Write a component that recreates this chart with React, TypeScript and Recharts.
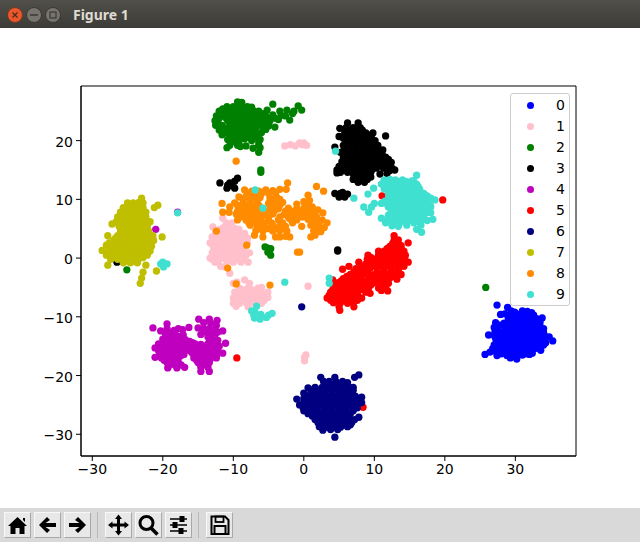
import React from 'react';
import { ScatterChart, Scatter, XAxis, YAxis, ReferenceArea } from 'recharts';

type Pt = [number, number];

const labels = ['0', '1', '2', '3', '4', '5', '6', '7', '8', '9'];
const colors = ['#0000ff', '#ffc0cb', '#008000', '#000000', '#bf00bf', '#ff0000', '#000080', '#bfbf00', '#ff8c00', '#40e0d0'];
const xTicks = [-30, -20, -10, 0, 10, 20, 30];
const yTicks = [-30, -20, -10, 0, 10, 20];

const digit0: Pt[] = [
  [27.4, -8], [28.9, -8.4], [29.4, -9], [29.9, -9.2], [31, -9], [31.7, -9.1], [32.3, -9.3],
  [27.9, -9.6], [29.2, -9.7], [30.5, -9.6], [31.4, -9.8], [32.6, -9.7],
  [29, -10.3], [30, -10.2], [31, -10.4], [32, -10.2], [33, -10.3], [33.8, -10.2],
  [27.2, -11], [28.4, -11.1], [29.5, -11], [30.5, -11.1], [31.5, -11], [32.5, -11.1], [33.5, -11],
  [27, -11.8], [28.6, -11.9], [29.6, -11.8], [30.6, -12], [31.6, -11.8], [32.6, -11.9], [33.6, -11.8], [34, -12],
  [27.1, -12.6], [28, -12.7], [29, -12.6], [30, -12.7], [31, -12.6], [32, -12.7], [33, -12.6], [34, -12.7],
  [26.2, -13.1], [27, -13.2], [28, -13.3], [29.2, -13.2], [30.2, -13.3], [31.2, -13.2], [32.2, -13.3], [33.2, -13.2], [34.2, -13.3], [34.8, -13.4],
  [27.6, -14], [28.6, -14.1], [29.6, -14], [30.6, -14.1], [31.6, -14], [32.6, -14.1], [33.6, -14], [35.3, -14.1],
  [27, -14.8], [28, -14.9], [29, -14.8], [30, -14.9], [31, -14.8], [32, -14.9], [33, -14.8], [34, -14.8],
  [26.8, -15.4], [27.8, -15.5], [28.8, -15.4], [29.8, -15.5], [30.8, -15.4], [31.8, -15.5], [32.8, -15.4], [33.6, -15.7],
  [26.4, -16], [27.4, -16.1], [28.6, -16], [29.6, -16.1], [30.6, -16], [31.6, -16.1], [32.4, -16.2],
  [25.7, -16.4], [27.4, -16.6], [28.8, -16.6], [30, -16.6], [31, -16.5], [32, -16.4], [29.3, -17], [30.2, -17.2],
];
const digit0Core: Pt[] = [
  [28.5, -9.5], [30, -9.5], [31, -9.5], [32, -9.5],
  [29.5, -10.6], [30.5, -10.6], [31.5, -10.6], [32.5, -10.6], [33.4, -10.6],
  [27.8, -11.4], [28.9, -11.4], [30, -11.4], [31, -11.4], [32, -11.4], [33, -11.4],
  [27.5, -12.2], [28.5, -12.2], [29.5, -12.2], [30.5, -12.2], [31.5, -12.2], [32.5, -12.2], [33.5, -12.2],
  [27.5, -13], [28.5, -13], [29.6, -13], [30.6, -13], [31.6, -13], [32.6, -13], [33.6, -13],
  [27.2, -13.7], [28.1, -13.7], [29.1, -13.7], [30.1, -13.7], [31.1, -13.7], [32.1, -13.7], [33.1, -13.7], [34.1, -13.7],
  [27.3, -14.4], [28.3, -14.4], [29.3, -14.4], [30.3, -14.4], [31.3, -14.4], [32.3, -14.4], [33.3, -14.4], [34.3, -14.4],
  [27.5, -15.1], [28.5, -15.1], [29.5, -15.1], [30.5, -15.1], [31.5, -15.1], [32.5, -15.1], [33.5, -15.1],
  [27, -15.8], [28, -15.8], [29.1, -15.8], [30.1, -15.8], [31.1, -15.8], [32.1, -15.8],
  [28, -16.3], [29.2, -16.3], [30.5, -16.3], [31.5, -16.3],
];

const digit1: Pt[] = [
  [-11.5, 6.8], [-11, 6], [-10.2, 6], [-12.9, 5.3], [-11.4, 5.2], [-10.5, 5.2], [-9.7, 5],
  [-12.5, 4.4], [-11.6, 4.4], [-10.8, 4.5], [-10, 4.4], [-9.2, 4.3], [-8.4, 4.2],
  [-13, 3.6], [-12.1, 3.5], [-11.3, 3.6], [-10.4, 3.5], [-9.5, 3.6], [-8.7, 3.5], [-8, 3.4],
  [-13.3, 2.6], [-12.4, 2.6], [-11.5, 2.7], [-10.6, 2.6], [-9.8, 2.7], [-8.9, 2.6], [-8, 2.6],
  [-12.8, 1.8], [-12, 1.8], [-11.1, 1.9], [-10.2, 1.8], [-9.3, 1.8], [-8.5, 1.7],
  [-13, 0.9], [-12.2, 0.9], [-11.3, 1], [-10.4, 0.9], [-9.6, 0.9], [-8.7, 0.8], [-7.7, 0.9],
  [-13.3, 0], [-12.4, 0], [-11.5, 0.1], [-10.6, 0], [-9.6, 0], [-8.6, -0.1],
  [-12.6, -0.7], [-10.9, -0.6], [-10, -0.7], [-8.9, -0.7], [-7.9, -0.7],
  [-11.8, -1.4], [-11.2, -1.5], [-10.5, -2.6],
  [-2.7, 19.1], [-1.9, 19.3], [-1.2, 19.1], [-0.6, 19.6], [0, 19.6], [0.4, 19.2], [-0.2, 19.3],
  [-10, -4.3], [-9.5, -4.1], [-8.4, -3.7], [-7.7, -4.3],
  [-9.1, -5.1], [-7.9, -5.1], [-6.5, -5.1], [-6, -5],
  [-9.8, -5.8], [-8.8, -5.8], [-7.8, -5.9], [-6.8, -5.8], [-6, -5.9], [-5.1, -5.8],
  [-10, -6.8], [-9.1, -6.8], [-8.1, -6.9], [-7.1, -6.8], [-6.1, -6.8], [-5.1, -6.7],
  [-10, -7.7], [-9.1, -7.7], [-8.1, -7.7], [-7.1, -7.6], [-6, -7.7], [-9.6, -8.2], [-7.9, -8.3],
  [0.6, -4.8], [0.3, -16.5], [0.1, -16.9], [0.1, -17.5],
];
const digit1Core: Pt[] = [
  [-11.9, 4.9], [-11, 4.9], [-10, 4.9], [-9.2, 4.9],
  [-12.2, 4], [-11.2, 4], [-10.4, 4], [-9.6, 4], [-8.8, 4],
  [-12.6, 3.1], [-11.8, 3.1], [-10.9, 3.1], [-10, 3.1], [-9.1, 3.1], [-8.3, 3.1],
  [-12.9, 2.2], [-12, 2.2], [-11.1, 2.2], [-10.2, 2.2], [-9.4, 2.2], [-8.5, 2.2],
  [-12.4, 1.4], [-11.5, 1.4], [-10.6, 1.4], [-9.7, 1.4], [-8.9, 1.4],
  [-12.6, 0.5], [-11.8, 0.5], [-10.9, 0.5], [-10, 0.5], [-9.1, 0.5], [-8.2, 0.5],
  [-12.9, -0.3], [-12, -0.3], [-11, -0.3], [-10.2, -0.3], [-9.2, -0.3],
  [-8.4, -5.4], [-7.3, -5.4], [-6.3, -5.4],
  [-9.4, -6.3], [-8.4, -6.3], [-7.4, -6.3], [-6.5, -6.3], [-5.6, -6.3],
  [-9.6, -7.2], [-8.6, -7.2], [-7.6, -7.2], [-6.6, -7.2], [-5.6, -7.2],
];

const digit2: Pt[] = [
  [-9.4, 26.6], [-8.8, 26.5],
  [-10.9, 25.8], [-10, 25.8], [-9, 25.9], [-8, 25.8], [-7.4, 25.7], [-4.4, 26.2],
  [-12, 25], [-11.2, 25.1], [-10.2, 25], [-9.2, 25.1], [-8.2, 25], [-7.2, 25.1], [-6.4, 25], [-5.2, 25.2],
  [-12.4, 24.2], [-11.4, 24.2], [-10.6, 24.3], [-9.4, 24.2], [-8.4, 24.3], [-7.4, 24.2], [-6.4, 24.3], [-5.4, 24.2], [-4.4, 24.4], [-3.2, 24.3],
  [-12.6, 23.4], [-10.8, 23.4], [-9.8, 23.5], [-8.8, 23.4], [-7.8, 23.5], [-6.8, 23.4], [-5.8, 23.5], [-4.8, 23.4], [-3.6, 23.6],
  [-12.5, 22.6], [-11.6, 22.6], [-10.4, 22.7], [-9.4, 22.6], [-8.4, 22.7], [-7.4, 22.6], [-6.2, 22.7], [-5, 22.5], [-4.1, 22.3],
  [-12, 21.8], [-11, 21.8], [-10, 21.9], [-9, 21.8], [-8, 21.9], [-7, 21.8], [-5.4, 21.9],
  [-11.6, 21], [-10.6, 21], [-9.6, 21.1], [-8.4, 21], [-7.4, 21.1], [-6.6, 21],
  [-10.8, 20.2], [-9.8, 20.2], [-8.4, 20.3], [-7.4, 20], [-6.2, 20.2],
  [-10.5, 19.2], [-9.4, 19.2], [-9, 19], [-8.2, 19.1], [-6.4, 19.2], [-10.9, 18.8], [-7.2, 18.7], [-6.2, 18.8], [-6.4, 18],
  [-0.8, 25.9], [-0.3, 25.2], [-1.4, 25], [-2.4, 25.2], [-3.4, 25], [-2, 23.5], [-2.6, 24.2], [-1.6, 24.6],
  [-6.1, 15], [-6.1, 14.6],
  [-5.5, 1.9], [-5.1, 1.7], [-4.7, 1.6], [-5.1, 1], [-4.7, 0.5],
  [-25.1, -2], [25.8, -5],
];
const digit2Core: Pt[] = [
  [-11.5, 25.4], [-10.6, 25.4], [-9.6, 25.4], [-8.6, 25.4], [-7.6, 25.4],
  [-11.9, 24.6], [-10.9, 24.6], [-9.9, 24.6], [-8.9, 24.6], [-7.9, 24.6], [-6.9, 24.6], [-5.9, 24.6],
  [-12, 23.8], [-11, 23.8], [-10, 23.8], [-9, 23.8], [-8, 23.8], [-7, 23.8], [-6, 23.8], [-5, 23.8], [-4, 23.8],
  [-12.2, 23], [-10.2, 23], [-9.2, 23], [-8.2, 23], [-7.2, 23], [-6.2, 23], [-5.2, 23],
  [-11.8, 22.2], [-10.8, 22.2], [-9.8, 22.2], [-8.8, 22.2], [-7.8, 22.2], [-6.8, 22.2], [-5.8, 22.2],
  [-11.2, 21.4], [-10.2, 21.4], [-9.2, 21.4], [-8.2, 21.4], [-7.2, 21.4], [-6, 21.4],
  [-10.4, 20.6], [-9.2, 20.6], [-8, 20.6], [-7, 20.6],
  [-10.2, 19.8], [-9.2, 19.8], [-6.4, 19.8],
];

const digit3: Pt[] = [
  [6.2, 23], [7.7, 23],
  [5.1, 22.1], [6, 22.2], [7, 22.2], [8, 22.2],
  [5.8, 21.3], [6.8, 21.3], [7.8, 21.4], [8.8, 21.3], [9.8, 21.3], [11.6, 20.8], [5, 20.7],
  [5.6, 20.4], [6.6, 20.4], [7.6, 20.5], [8.6, 20.4], [9.6, 20.4],
  [6, 19.6], [7, 19.6], [8, 19.7], [9, 19.6], [10, 19.6],
  [4.4, 18.9], [6.4, 18.9], [7.4, 18.9], [8.4, 19], [9.4, 18.9], [10.4, 18.9],
  [5.2, 18], [6, 18], [7, 18.1], [8, 18], [9, 18.1], [10, 18], [11, 18],
  [5.6, 17.2], [6.6, 17.2], [7.6, 17.3], [8.6, 17.2], [9.6, 17.3], [10.6, 17.2], [11.6, 17.2],
  [5.4, 16.4], [6.4, 16.4], [7.4, 16.5], [8.4, 16.4], [9.4, 16.5], [10.4, 16.4], [11.4, 16.4], [12.4, 16.3],
  [5, 15.6], [6, 15.6], [7, 15.7], [8, 15.6], [9, 15.7], [10, 15.6], [12, 15.6],
  [4.7, 15], [5.6, 15], [6.6, 15], [7.6, 15], [8.6, 15], [9.6, 15], [12.2, 14.9], [12.9, 15],
  [4.7, 14.5], [7, 14.3], [8, 14.3], [9, 14.3], [10.8, 14.3], [11.8, 14.4],
  [7, 13.4], [8, 13.4], [9, 13.4], [7.7, 12.9], [8.6, 12.9],
  [4.4, 11], [5, 10.4], [5.2, 11], [5.5, 11.2], [6.2, 10.9], [5.8, 10.4],
  [4.8, 1.4], [4.8, 1.2],
  [-11.9, 12.8], [-10.9, 11.9], [-10.5, 12.8], [-10.2, 12.3], [-9.8, 11.9], [-9.8, 13.1], [-9.4, 13.6], [-10.8, 12.4],
  [-26.5, -0.7],
];
const digit3Core: Pt[] = [
  [6.4, 21.8], [7.4, 21.8], [8.3, 21.8],
  [6.3, 20.9], [7.3, 20.9], [8.3, 20.9], [9.3, 20.9],
  [6.1, 20], [7.1, 20], [8.1, 20], [9.1, 20], [10.1, 20],
  [5.6, 19.2], [6.5, 19.2], [7.5, 19.2], [8.5, 19.2], [9.5, 19.2], [10.5, 19.2],
  [5.7, 18.4], [6.5, 18.4], [7.5, 18.4], [8.5, 18.4], [9.5, 18.4], [10.5, 18.4], [11.2, 18.4],
  [6.1, 17.6], [7.1, 17.6], [8.1, 17.6], [9.1, 17.6], [10.1, 17.6], [11.1, 17.6],
  [6, 16.8], [7, 16.8], [8, 16.8], [9, 16.8], [10, 16.8], [11, 16.8], [12, 16.8],
  [5.7, 16], [6.7, 16], [7.7, 16], [8.7, 16], [9.7, 16], [10.7, 16], [11.7, 16],
  [5.3, 15.3], [6.3, 15.3], [7.3, 15.3], [8.3, 15.3], [9.3, 15.3], [10.3, 15.3], [11.3, 15.3], [12.5, 15.3],
  [5.2, 14.6], [6.2, 14.6], [7.5, 14.6], [8.5, 14.6], [9.5, 14.6],
  [7.5, 13.8], [8.5, 13.8], [9.5, 13.8],
];

const digit4: Pt[] = [
  [-21.4, -11.9], [-20.3, -12.4], [-19.4, -11.2], [-19.4, -12], [-18.4, -12.3], [-17.8, -12], [-17.2, -12.2], [-16.3, -11.8],
  [-14.9, -10.4], [-13.4, -10.4], [-12.3, -10.6], [-14.2, -11], [-13.2, -11.1], [-12.4, -11.5],
  [-15, -11.9], [-14.2, -12], [-13.4, -12], [-12.6, -12.2], [-11.5, -12.4],
  [-19.6, -13], [-18.8, -13], [-18, -13.2], [-17.1, -13.1], [-14.6, -13], [-12.6, -13.1],
  [-20, -13.8], [-19.2, -13.9], [-18.4, -13.8], [-17.6, -14], [-16.8, -13.9], [-15.8, -14.4], [-13, -13.8], [-12.2, -14],
  [-20.6, -14.6], [-19.8, -14.6], [-19, -14.7], [-18.2, -14.6], [-17.4, -14.7], [-16.4, -14.8], [-15.4, -14.6], [-14.6, -14.7], [-13.6, -14.6], [-12.6, -14.7], [-11.1, -14.5],
  [-21.1, -15.3], [-20, -15.5], [-19.2, -15.4], [-18.4, -15.5], [-17.6, -15.4], [-16.8, -15.5], [-16, -15.4], [-15.2, -15.5], [-14.2, -15.4], [-13.2, -15.5], [-12.2, -15.4],
  [-21.1, -16.9], [-20.4, -16.2], [-19.4, -16.3], [-18.6, -16.2], [-17.8, -16.3], [-17, -16.4], [-15.8, -16.2], [-15, -16.3], [-14, -16.2], [-13, -16.3], [-11.5, -16.2],
  [-20.2, -17], [-19.4, -17.1], [-18.6, -17], [-17.8, -17.1], [-15.6, -17], [-14.8, -17.1], [-14, -17], [-13.2, -17.1], [-12.4, -17],
  [-19.4, -17.8], [-18.6, -17.9], [-17.8, -17.8], [-15, -17.8], [-14.2, -17.9], [-13.4, -17.8],
  [-19.3, -18.7], [-18, -18.7], [-16.9, -18.6], [-17.4, -18.2], [-14.6, -18.6], [-13.6, -18.6], [-14.6, -19.3], [-13.4, -19.3],
  [-17.9, 7.8], [-21, 4.9],
];
const digit4Core: Pt[] = [
  [-19.2, -12.6], [-18.4, -12.6], [-13.8, -12.6], [-13, -12.6], [-12.2, -12.6],
  [-19.4, -13.4], [-18.4, -13.4], [-17.6, -13.4], [-13.6, -13.4], [-12.8, -13.4],
  [-19.6, -14.2], [-18.8, -14.2], [-18, -14.2], [-17.2, -14.2], [-16.2, -14.2], [-13.4, -14.2], [-12.4, -14.2],
  [-20.2, -15], [-19.4, -15], [-18.6, -15], [-17.8, -15], [-17, -15], [-16, -15], [-15, -15], [-14, -15], [-13, -15], [-12, -15],
  [-20.6, -15.8], [-19.6, -15.8], [-18.8, -15.8], [-18, -15.8], [-17.2, -15.8], [-16.2, -15.8], [-15.4, -15.8], [-14.4, -15.8], [-13.4, -15.8], [-12.4, -15.8],
  [-20, -16.6], [-19, -16.6], [-18.2, -16.6], [-17.4, -16.6], [-15.4, -16.6], [-14.4, -16.6], [-13.4, -16.6], [-12.4, -16.6],
  [-19.8, -17.4], [-19, -17.4], [-18.2, -17.4], [-15.2, -17.4], [-14.4, -17.4], [-13.6, -17.4],
  [-19, -18.2], [-18.2, -18.2], [-14.6, -18.2], [-13.8, -18.2],
];

const digit5: Pt[] = [
  [12.8, 3.8], [12.8, 3], [13.4, 3.1], [14.8, 2.6], [12.2, 2], [13, 2], [13.8, 2.1],
  [10.6, 1.2], [11.4, 1.2], [12.4, 1.3], [13.4, 1.2], [14.2, 1.2],
  [9.1, 0.5], [10.6, 0.6], [11.6, 0.6], [12.6, 0.7], [13.6, 0.6], [14.4, 0.5],
  [9, -0.2], [10, -0.2], [11, -0.1], [12, -0.2], [13, -0.1], [14, -0.2], [14.8, -0.7],
  [7.8, -0.7], [8.8, -1], [9.8, -1], [10.8, -0.9], [11.8, -1], [12.8, -0.9], [13.8, -1],
  [6.4, -1.4], [7.4, -1.8], [8.4, -1.8], [9.4, -1.7], [10.4, -1.8], [11.4, -1.7], [12.4, -1.8], [13.4, -1.8],
  [5.5, -1.9], [6.6, -2.8], [7.6, -2.8], [8.6, -2.7], [10, -2.8], [11, -2.7], [12, -2.8], [13, -2.7], [13.8, -2.8],
  [5.6, -3.5], [6.6, -3.5], [7.6, -3.4], [9.2, -3.5], [10.2, -3.4], [11.2, -3.5], [12.2, -3.4], [13.2, -3.6],
  [4.9, -4.2], [5.8, -4.2], [6.8, -4.3], [7.8, -4.2], [8.8, -4.3], [10, -4.2], [11, -4.3], [12, -4.3],
  [4.2, -5], [5, -5], [6, -5.1], [7, -5], [8, -5.1], [9.2, -5], [10.6, -5.1], [11.6, -5],
  [3.8, -5.8], [4.8, -5.8], [5.8, -5.9], [6.8, -5.8], [7.6, -5.9], [8.8, -5.8], [9.4, -6], [11, -5.5], [11.9, -5.6],
  [3.3, -6.8], [4.2, -6.8], [5.2, -6.9], [6.2, -6.8], [7.2, -6.9], [8.2, -6.8],
  [4.2, -7.6], [5.2, -7.6], [6.2, -7.7], [7, -7.6], [5, -8.3], [7.1, -8.3], [5.1, -8.9],
  [19.7, 9.9], [11.1, 10.6], [8.4, -25.4], [-9.5, -17], [4.1, -3.7],
];
const digit5Core: Pt[] = [
  [12.6, 2.5], [13.4, 2.5],
  [11.8, 1.6], [12.8, 1.6], [13.8, 1.6],
  [11, 0.9], [12, 0.9], [13, 0.9], [14, 0.9],
  [9.5, 0.1], [10.5, 0.1], [11.5, 0.1], [12.5, 0.1], [13.5, 0.1], [14.3, 0.1],
  [9.4, -0.6], [10.4, -0.6], [11.4, -0.6], [12.4, -0.6], [13.4, -0.6], [14.4, -0.6],
  [8.2, -1.4], [9.2, -1.4], [10.2, -1.4], [11.2, -1.4], [12.2, -1.4], [13.2, -1.4], [14.2, -1.4],
  [7.1, -2.3], [8.1, -2.3], [9.1, -2.3], [10.4, -2.3], [11.4, -2.3], [12.4, -2.3], [13.4, -2.3],
  [6.1, -3.1], [7.1, -3.1], [8.1, -3.1], [9.7, -3.1], [10.7, -3.1], [11.7, -3.1], [12.7, -3.1],
  [5.3, -3.9], [6.3, -3.9], [7.3, -3.9], [8.4, -3.9], [9.6, -3.9], [10.6, -3.9], [11.6, -3.9],
  [4.6, -4.6], [5.4, -4.6], [6.4, -4.6], [7.4, -4.6], [8.4, -4.6], [9.5, -4.6],
  [4.1, -5.4], [5.4, -5.4], [6.4, -5.4], [7.4, -5.4], [8.4, -5.4],
  [3.6, -6.3], [4.6, -6.3], [5.6, -6.3], [6.6, -6.3], [7.6, -6.3],
  [3.8, -7.2], [4.8, -7.2], [5.8, -7.2], [6.8, -7.2], [7.6, -7.2],
];

const digit6: Pt[] = [
  [7.8, -19.9], [7.2, -20.3], [2.4, -20.3], [4.4, -20.3],
  [2.8, -21], [3.6, -21], [4.6, -21.1], [5.5, -21], [6.2, -21.2],
  [0.6, -22.1], [1.6, -22], [2.6, -22], [3.6, -22.1], [4.6, -22], [5.6, -22.1], [6.4, -22], [7, -22],
  [0, -23], [1, -23], [2, -23.1], [3, -23], [4, -23.1], [5, -23], [6, -23.1], [6.8, -23],
  [-1, -24], [0, -23.9], [1.2, -24], [2.2, -24], [3.2, -23.9], [4.2, -24], [5.2, -23.9], [6.2, -24], [7.4, -23.8], [8.2, -23.7],
  [-0.6, -25], [0.4, -25], [1.4, -25.1], [2.4, -25], [3.4, -25.1], [4.4, -25], [5.4, -25.1], [6.4, -25], [7.4, -25], [8.2, -24.6],
  [0, -26], [1, -26], [2, -26.1], [3, -26], [4, -26.1], [5, -26], [6, -26.1], [7, -26],
  [1.2, -26.9], [2.2, -27], [3.2, -26.9], [4.2, -27], [5.2, -26.9], [6.2, -27], [7.8, -27.1],
  [2, -28], [3, -28], [4, -28.1], [5, -28], [6, -28.1], [6.8, -28],
  [2.2, -28.7], [3.2, -28.8], [4.2, -28.8], [5.2, -28.8], [6.2, -28.7], [2.7, -29.3], [3.8, -29.2], [4.8, -29.2],
  [4.4, -30.5],
  [-0.3, -8.3],
];
const digit6Core: Pt[] = [
  [3.1, -21.5], [4.1, -21.5], [5.1, -21.5], [6.1, -21.5],
  [1.1, -22.5], [2.1, -22.5], [3.1, -22.5], [4.1, -22.5], [5.1, -22.5], [6.1, -22.5], [7, -22.5],
  [0.5, -23.5], [1.5, -23.5], [2.6, -23.5], [3.6, -23.5], [4.6, -23.5], [5.6, -23.5], [6.5, -23.5], [7.3, -23.5],
  [0, -24.5], [0.8, -24.5], [1.8, -24.5], [2.8, -24.5], [3.8, -24.5], [4.8, -24.5], [5.8, -24.5], [6.8, -24.5], [7.8, -24.5],
  [-0.1, -25.5], [0.9, -25.5], [1.9, -25.5], [2.9, -25.5], [3.9, -25.5], [4.9, -25.5], [5.9, -25.5], [6.9, -25.5], [7.6, -25.5],
  [0.6, -26.5], [1.6, -26.5], [2.6, -26.5], [3.6, -26.5], [4.6, -26.5], [5.6, -26.5], [6.6, -26.5],
  [1.6, -27.5], [2.6, -27.5], [3.6, -27.5], [4.6, -27.5], [5.6, -27.5], [6.6, -27.5], [7.2, -27.5],
  [2.6, -28.4], [3.6, -28.4], [4.6, -28.4], [5.6, -28.4], [6.6, -28.4],
];

const digit7: Pt[] = [
  [-23, 10.2], [-25, 9.4], [-24.2, 9.4], [-23.4, 9.5], [-22.8, 9.4], [-20.7, 9],
  [-25.6, 8.6], [-24.6, 8.6], [-23.6, 8.7], [-22.8, 8.6], [-21.2, 8.6],
  [-26, 7.8], [-25, 7.8], [-24, 7.9], [-23, 7.8], [-22.4, 7.8],
  [-26.4, 7], [-25.4, 7], [-24.4, 7.1], [-23.4, 7], [-22.4, 7],
  [-26.6, 6.2], [-25.6, 6.2], [-24.6, 6.3], [-23.6, 6.2], [-22.6, 6.3], [-21.8, 6.2], [-27.2, 5.8],
  [-26.2, 5.4], [-25.2, 5.4], [-24.2, 5.5], [-23.2, 5.4], [-22.2, 5.4],
  [-26, 4.6], [-25, 4.6], [-24, 4.7], [-23, 4.6], [-22, 4.6],
  [-27.8, 3.8], [-26.4, 3.8], [-25.4, 3.9], [-24.4, 3.8], [-23.4, 3.9], [-22.4, 3.8], [-21.4, 3.8], [-20.1, 3.6],
  [-27, 3], [-26, 3], [-25, 3.1], [-24, 3], [-23, 3.1], [-22, 3], [-21.3, 3],
  [-28, 2.2], [-27.2, 2.2], [-26.2, 2.3], [-25.2, 2.2], [-24.2, 2.3], [-23.2, 2.2], [-22.2, 2.3], [-21.6, 2],
  [-28.6, 1.3], [-27.6, 1.3], [-26.6, 1.4], [-25.6, 1.3], [-24.6, 1.4], [-23.6, 1.3], [-22.6, 1.4], [-21.8, 1.2],
  [-28, 0.5], [-27, 0.5], [-26, 0.6], [-25, 0.5], [-24, 0.6], [-23, 0.5], [-22.2, 0.5],
  [-27.4, -0.2], [-26.4, -0.2], [-25.4, -0.1], [-24.4, -0.2], [-23.4, -0.1],
  [-25.6, -0.8], [-24.6, -0.8], [-23.6, -0.8],
  [-27.8, -1.2], [-22.4, -1.2], [-22.8, -2.4], [-23, -3.4], [-23.2, -4.3], [-20.9, -2.2],
];
const digit7Core: Pt[] = [
  [-24.6, 9], [-23.8, 9], [-23.1, 9],
  [-25.2, 8.2], [-24.2, 8.2], [-23.2, 8.2],
  [-25.7, 7.4], [-24.7, 7.4], [-23.7, 7.4], [-22.7, 7.4],
  [-26, 6.6], [-25, 6.6], [-24, 6.6], [-23, 6.6],
  [-26.2, 5.8], [-25.1, 5.8], [-24.1, 5.8], [-23.1, 5.8], [-22.2, 5.8],
  [-25.6, 5], [-24.6, 5], [-23.6, 5], [-22.6, 5],
  [-25.8, 4.2], [-24.8, 4.2], [-23.8, 4.2], [-22.8, 4.2],
  [-26.7, 3.4], [-25.7, 3.4], [-24.7, 3.4], [-23.7, 3.4], [-22.7, 3.4], [-21.7, 3.4],
  [-27.6, 2.6], [-26.6, 2.6], [-25.6, 2.6], [-24.6, 2.6], [-23.6, 2.6], [-22.6, 2.6],
  [-27, 1.7], [-26, 1.7], [-25, 1.7], [-24, 1.7], [-23, 1.7], [-22.2, 1.7],
  [-28, 0.9], [-27, 0.9], [-26, 0.9], [-25, 0.9], [-24, 0.9], [-23, 0.9], [-22.2, 0.9],
  [-26.6, 0.1], [-25.6, 0.1], [-24.6, 0.1], [-23.6, 0.1], [-22.8, 0.1],
  [-25, -0.5], [-24.1, -0.5],
];

const digit8: Pt[] = [
  [-9.6, 16.5], [-2.3, 12.8], [1.8, 12.2], [2.8, 11.4], [-11.6, 9.3], [-12.4, 4.6], [-8.1, 2.2], [-10.8, -1.7],
  [-0.3, 5.4], [-0.6, 1], [-0.9, 1], [-9.6, -4.4], [-4.8, -4.6],
  [-8.4, 11.6], [-7.4, 11.4], [-6.4, 11.4], [-5.4, 11.6], [-4.4, 11.5], [-3.4, 11.7], [-2.5, 11.7],
  [-9.2, 10.4], [-8.2, 10.5], [-7.2, 10.4], [-6.2, 10.3], [-4.8, 10.2], [-3.8, 10.3], [0.6, 10.7],
  [-9.8, 9.4], [-8.6, 9.4], [-7.6, 9.5], [-6.6, 9.4], [-5, 9.3], [-4, 9.4], [-3, 9.5], [-1, 9.2], [0, 9.6], [0.8, 9.8],
  [-10.5, 8.7], [-9, 8.4], [-8, 8.5], [-7, 8.4], [-6, 8.5], [-4.8, 8.3], [-3.6, 8.4], [-2.2, 8.5], [-1, 8.4], [0, 8.5], [1.2, 8.7], [2, 8.2],
  [-11.5, 7.8], [-10.6, 7.8], [-9.6, 7.5], [-8.6, 7.5], [-7.6, 7.4], [-6.6, 7.5], [-5.6, 7.4], [-4.4, 7.5], [-2.8, 7.4], [-1.8, 7.5], [-0.8, 7.4], [0.2, 7.5], [1.2, 7.4], [2.7, 7.7],
  [-9.4, 6.5], [-8.2, 6.5], [-7.2, 6.6], [-6.2, 6.5], [-5, 6.4], [-3.6, 6.5], [-2, 6.7], [-1, 6.5], [0.6, 6.6], [1.6, 6.6], [2.6, 6.5], [3.3, 6],
  [-7.6, 5.6], [-6.6, 5.6], [-5.6, 5.5], [-4.4, 5.6], [-3.4, 5.5], [-2.6, 5.4], [1, 5.6], [2, 5.4], [2.9, 5.2],
  [-6.8, 4.7], [-5.8, 4.6], [-4.4, 4.6], [-3.4, 4.7], [-2.4, 4.6], [1.4, 4.6], [2.4, 4.5],
  [-5.8, 3.6], [-7, 3.9], [-4, 3.6], [-3.4, 3.6], [-2.6, 3.7], [-2, 3.6], [1, 3.6], [1.6, 3.9],
];
const digit8Core: Pt[] = [
  [-8, 11], [-7, 11], [-6, 11], [-5, 11], [-4, 11],
  [-8.6, 10], [-7.6, 10], [-6.6, 10], [-4.4, 10], [-3.4, 10],
  [-9.4, 9], [-8.4, 9], [-7.4, 9], [-6.4, 9], [-4.4, 9], [-3.4, 9], [0.4, 9],
  [-9.4, 8], [-8.4, 8], [-7.4, 8], [-6.4, 8], [-5.4, 8], [-4.2, 8], [-2.6, 8], [-1.6, 8], [-0.4, 8], [0.6, 8], [1.6, 8],
  [-9, 7], [-8, 7], [-7, 7], [-6, 7], [-5, 7], [-3.4, 7], [-2.2, 7], [-1.2, 7], [-0.2, 7], [0.8, 7], [1.8, 7],
  [-7.8, 6], [-6.8, 6], [-5.8, 6], [-4.6, 6], [-3, 6], [-1.6, 6], [1.2, 6], [2.2, 6],
  [-6.2, 5], [-5, 5], [-3.8, 5], [-2.8, 5], [1.8, 5],
];

const digit9: Pt[] = [
  [11.4, 13.3], [12.2, 13.4], [13, 13.3], [14, 13.3], [16, 14.1], [15.4, 13.2],
  [11, 12.6], [12, 12.6], [13, 12.7], [14, 12.6], [15, 12.7], [16, 12.6],
  [9.9, 11.9], [11.4, 11.8], [12.4, 11.8], [13.4, 11.9], [14.4, 11.8], [15.4, 11.9], [16.4, 11.8],
  [9.1, 10.9], [12, 11], [13, 11.1], [14, 11], [15, 11.1], [16, 11], [17, 11],
  [7.1, 10.2], [12, 10.2], [13, 10.3], [14, 10.2], [15, 10.3], [16, 10.2], [17, 10.3], [18, 10.2], [18.6, 9.9],
  [10, 9.3], [11, 9.3], [12.4, 9.3], [13.4, 9.4], [14.4, 9.3], [15.4, 9.4], [16.4, 9.3], [17.4, 9.3],
  [8.5, 8.7], [9.6, 8.7], [12, 8.7], [13, 8.8], [14, 8.7], [15, 8.8], [16, 8.7], [17, 8.8], [18, 8.7],
  [9.2, 7.8], [12.6, 7.8], [13.6, 7.9], [14.6, 7.8], [15.6, 7.9], [16.6, 7.8], [17.6, 7.8], [18, 7.7],
  [11, 6.8], [12, 6.8], [13, 6.9], [14, 6.8], [15, 6.9], [16, 6.8], [17, 6.9], [18.3, 6.6],
  [11.6, 6], [12.6, 6], [13.6, 6], [14.6, 6.1], [15.6, 6], [16.5, 6], [12.5, 5.5], [13.4, 5.4], [14.6, 5.6], [16.6, 5.6],
  [16, 4.9], [16.7, 4.4],
  [4.5, 18.2], [-6.9, 11.6], [-5.8, 8.5], [-17.9, 7.7],
  [-20, -0.7], [-19.4, -1], [-19.9, -1.5], [-20.3, -1],
  [-2.7, -4.1], [3.6, -3.4], [3.6, -4.3],
  [-6.7, -8.2], [-7.4, -9], [-4.5, -9.4], [-7, -10.2], [-6.2, -10.4], [-5.3, -10.1], [-5, -9.7], [-6.9, -9.3], [-6.1, -9.6], [-7.1, -9.7],
];
const digit9Core: Pt[] = [
  [11.8, 13], [12.6, 13], [13.5, 13], [14.6, 13], [15.6, 13],
  [11.5, 12.2], [12.5, 12.2], [13.5, 12.2], [14.5, 12.2], [15.5, 12.2], [16.2, 12.2],
  [12.5, 11.4], [13.5, 11.4], [14.5, 11.4], [15.5, 11.4], [16.5, 11.4],
  [12.5, 10.6], [13.5, 10.6], [14.5, 10.6], [15.5, 10.6], [16.5, 10.6], [17.5, 10.6],
  [11.5, 9.7], [12.5, 9.7], [13.5, 9.7], [14.5, 9.7], [15.5, 9.7], [16.5, 9.7], [17.5, 9.7],
  [11.9, 9], [12.9, 9], [13.9, 9], [14.9, 9], [15.9, 9], [16.9, 9], [17.9, 9],
  [12.4, 8.2], [13.4, 8.2], [14.4, 8.2], [15.4, 8.2], [16.4, 8.2], [17.4, 8.2],
  [12, 7.3], [13, 7.3], [14, 7.3], [15, 7.3], [16, 7.3], [17, 7.3],
  [11.5, 6.4], [12.5, 6.4], [13.5, 6.4], [14.5, 6.4], [15.5, 6.4], [16.5, 6.4], [17.5, 6.4],
];

const digits = [
  [...digit0, ...digit0Core],
  [...digit1, ...digit1Core],
  [...digit2, ...digit2Core],
  [...digit3, ...digit3Core],
  [...digit4, ...digit4Core],
  [...digit5, ...digit5Core],
  [...digit6, ...digit6Core],
  [...digit7, ...digit7Core],
  [...digit8, ...digit8Core],
  [...digit9, ...digit9Core],
];
const seriesData = digits.map((pts) => pts.map(([x, y]) => ({ x, y })));

const tickFmt = (v: number) => String(v).replace('-', '\u2212');

const Dot = (props: any) => <circle cx={props.cx} cy={props.cy} r={3.65} fill={props.fill} />;

const MplLegend = () => (
  <div
    style={{
      position: 'absolute',
      left: 510,
      top: 93,
      boxSizing: 'border-box',
      width: 60,
      height: 213,
      border: '1px solid #cccccc',
      borderRadius: 3,
      background: 'rgba(255,255,255,0.8)',
    }}
  >
    {labels.map((label, i) => (
      <div key={label} style={{ position: 'absolute', left: 0, top: 2 + i * 21, height: 21, width: 58 }}>
        <span
          style={{
            position: 'absolute',
            left: 15.5,
            top: 6,
            width: 7,
            height: 7,
            borderRadius: '50%',
            background: colors[i],
          }}
        />
        <span style={{ position: 'absolute', left: 45, top: 1, fontFamily: 'DejaVu Sans', fontSize: 14, lineHeight: '17px', color: '#000' }}>
          {label}
        </span>
      </div>
    ))}
  </div>
);

const btn = (left: number, icon: React.ReactNode) => (
  <div
    key={left}
    style={{
      position: 'absolute',
      left,
      top: 4,
      width: 27,
      height: 26,
      boxSizing: 'border-box',
      background: '#e8e8e8',
      borderTop: '1px solid #f8f8f8',
      borderLeft: '1px solid #f8f8f8',
      borderRight: '1px solid #a8a8a8',
      borderBottom: '1px solid #a8a8a8',
    }}
  >
    <svg width={25} height={24} viewBox="0 0 25 24" style={{ display: 'block' }}>
      {icon}
    </svg>
  </div>
);

const toolbar = [
  btn(4, <path d="M12.5 4 L22 13 L19.5 13 L19.5 21 L14.5 21 L14.5 15 L10.5 15 L10.5 21 L5.5 21 L5.5 13 L3 13 Z M18 5 L20 5 L20 9 L18 7 Z" fill="#000" />),
  btn(34, <path d="M4 12 L12 4 L15 7 L10.5 10 L21 10 L21 14 L10.5 14 L15 17 L12 20 Z" fill="#000" />),
  btn(64, <path d="M21 12 L13 4 L10 7 L14.5 10 L4 10 L4 14 L14.5 14 L10 17 L13 20 Z" fill="#000" />),
  btn(105, <path d="M12.5 1.5 L16 6 L14 6 L14 10.5 L18.5 10.5 L18.5 8.5 L23 12 L18.5 15.5 L18.5 13.5 L14 13.5 L14 18 L16 18 L12.5 22.5 L9 18 L11 18 L11 13.5 L6.5 13.5 L6.5 15.5 L2 12 L6.5 8.5 L6.5 10.5 L11 10.5 L11 6 L9 6 Z" fill="#000" />),
  btn(135, <g fill="none" stroke="#000"><circle cx={10.5} cy={10} r={6.5} strokeWidth={3} /><path d="M15 15 L21.5 21.5" strokeWidth={3.5} /></g>),
  btn(165, (
    <g stroke="#000" fill="#000">
      <path d="M4 6 H21 M4 12 H21 M4 18 H21" strokeWidth={1.5} />
      <rect x={14} y={3.5} width={4} height={5} />
      <rect x={7} y={9.5} width={4} height={5} />
      <rect x={13} y={15.5} width={4} height={5} />
    </g>
  )),
  btn(206, (
    <g fill="none" stroke="#000" strokeWidth={2}>
      <path d="M4.5 3.5 H18 L21.5 7 V21 H4.5 Z" />
      <rect x={8.5} y={3.5} width={8} height={5.5} strokeWidth={1.8} />
      <rect x={7.5} y={13} width={11} height={8} />
    </g>
  )),
];

const App = () => (
  <div style={{ position: 'absolute', left: 0, top: 0, width: 640, height: 542, background: '#fff', overflow: 'hidden' }}>
    <ScatterChart width={640} height={542} margin={{ top: 86, right: 64, bottom: 56, left: 31 }} style={{ position: 'absolute', left: 0, top: 0 }}>
      <XAxis
        type="number"
        dataKey="x"
        domain={[-31.6, 38.6]}
        ticks={xTicks}
        height={30}
        interval={0}
        tickSize={5}
        tickMargin={3}
        tickFormatter={tickFmt}
        tick={{ fontFamily: 'DejaVu Sans', fontSize: 14, fill: '#000' }}
        stroke="#000"
        allowDataOverflow
      />
      <YAxis
        type="number"
        dataKey="y"
        domain={[-33.7, 29.3]}
        ticks={yTicks}
        width={50}
        interval={0}
        tickSize={5}
        tickMargin={3}
        tickFormatter={tickFmt}
        tick={{ fontFamily: 'DejaVu Sans', fontSize: 14, fill: '#000', dy: 1 }}
        stroke="#000"
        allowDataOverflow
      />
      <ReferenceArea x1={-31.6} x2={38.6} y1={-33.7} y2={29.3} fill="none" stroke="#000" strokeWidth={1} />
      {labels.map((label, i) => (
        <Scatter key={label} name={label} data={seriesData[i]} fill={colors[i]} shape={<Dot />} isAnimationActive={false} />
      ))}
    </ScatterChart>

    <MplLegend />

    <div
      style={{
        position: 'absolute',
        left: 0,
        top: 0,
        width: 640,
        height: 28,
        background: 'linear-gradient(#504f49, #3c3b37)',
      }}
    >
      <svg width={70} height={28} style={{ position: 'absolute', left: 0, top: 0 }}>
        <circle cx={15} cy={15} r={7.5} fill="#e9572b" stroke="#6e3a25" />
        <path d="M12.5 12.5 L17.5 17.5 M17.5 12.5 L12.5 17.5" stroke="#4a2a1c" strokeWidth={1.2} />
        <circle cx={34} cy={15} r={7.5} fill="#76746d" stroke="#3a3935" />
        <path d="M30 15 H38" stroke="#3a3935" strokeWidth={1.5} />
        <circle cx={53} cy={15} r={7.5} fill="#76746d" stroke="#3a3935" />
        <rect x={50} y={12} width={6} height={6} fill="none" stroke="#3a3935" strokeWidth={1.2} />
      </svg>
      <span
        style={{
          position: 'absolute',
          left: 73,
          top: 5,
          fontFamily: 'Noto Sans',
          fontWeight: 700,
          fontSize: 14,
          lineHeight: '19px',
          color: '#dfdbd2',
        }}
      >
        Figure 1
      </span>
    </div>

    <div style={{ position: 'absolute', left: 0, top: 508, width: 640, height: 34, background: '#d9d9d9' }}>
      {toolbar}
      <div style={{ position: 'absolute', left: 97, top: 4, width: 1, height: 26, background: '#b8b8b8' }} />
      <div style={{ position: 'absolute', left: 198, top: 4, width: 1, height: 26, background: '#b8b8b8' }} />
    </div>
  </div>
);

export default App;
